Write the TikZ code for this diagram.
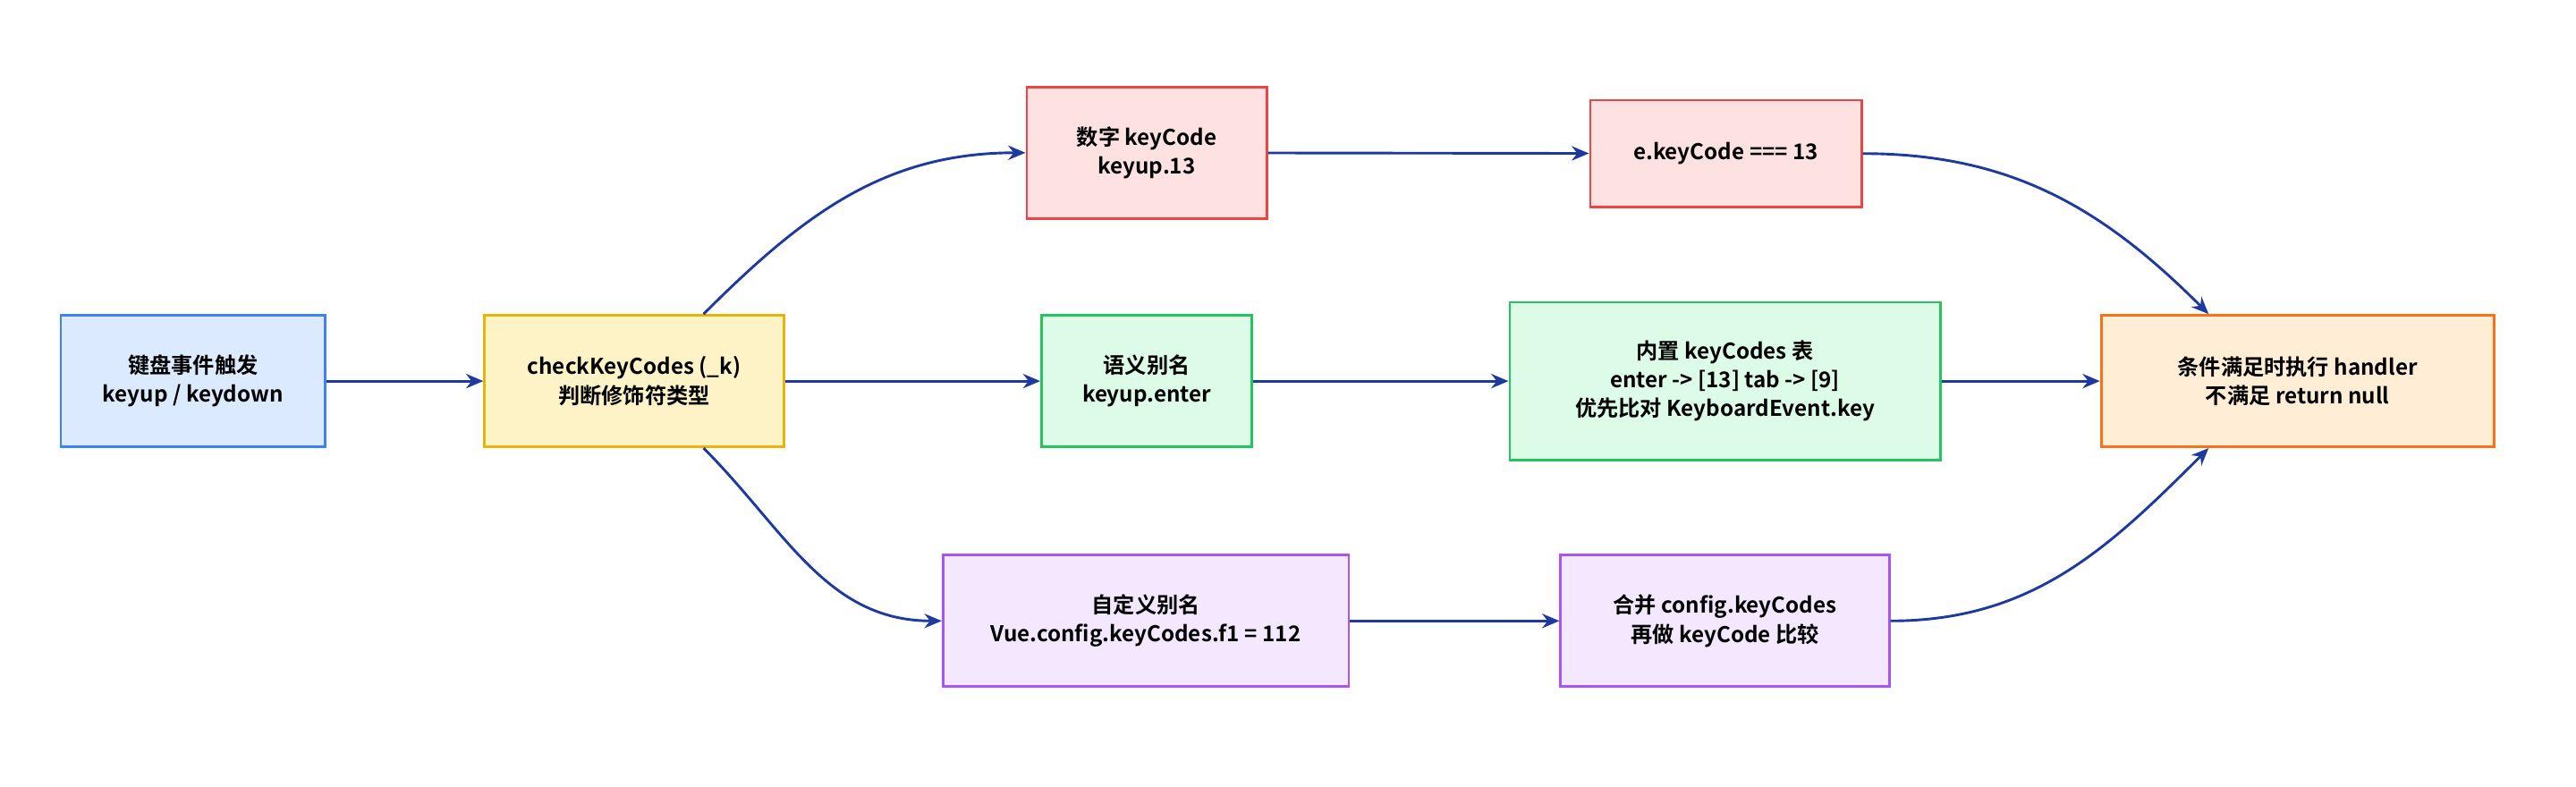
\documentclass[tikz,border=0pt]{standalone}
\usepackage{fontspec}
\setmainfont{Noto Sans CJK SC}[BoldFont={Noto Sans CJK SC Bold}]
\usepackage{tikz}
\usetikzlibrary{arrows.meta, positioning, shapes, calc}

\definecolor{blueFill}{HTML}{DBEAFE}\definecolor{blueLine}{HTML}{3B82F6}
\definecolor{yellowFill}{HTML}{FEF3C7}\definecolor{yellowLine}{HTML}{EAB308}
\definecolor{redFill}{HTML}{FEE2E2}\definecolor{redLine}{HTML}{EF4444}
\definecolor{greenFill}{HTML}{DCFCE7}\definecolor{greenLine}{HTML}{22C55E}
\definecolor{purpleFill}{HTML}{F3E8FF}\definecolor{purpleLine}{HTML}{A855F7}
\definecolor{orangeFill}{HTML}{FFEDD5}\definecolor{orangeLine}{HTML}{F97316}
\definecolor{flowLine}{HTML}{1E3A9F}

\tikzset{
  box/.style={draw, line width=0.9pt, align=center, inner sep=0pt,
    font=\fontsize{7.5}{10}\selectfont\bfseries},
  flow/.style={draw=flowLine, line width=0.9pt, -{Stealth[length=6pt,width=5pt]}}
}

\begin{document}
\begin{tikzpicture}
% canvas
\useasboundingbox[fill=white] (0,0) rectangle (31.36,9.58);

% left side
\node[box, fill=blueFill, draw=blueLine, minimum width=3.22cm, minimum height=1.6cm] (input) at (2.35,4.94) {键盘事件触发\\keyup / keydown};
\node[box, fill=yellowFill, draw=yellowLine, minimum width=3.64cm, minimum height=1.6cm] (check) at (7.72,4.94) {checkKeyCodes (\_k)\\判断修饰符类型};

% three branches
\node[box, fill=redFill, draw=redLine, minimum width=2.92cm, minimum height=1.6cm] (num) at (13.96,7.72) {数字 keyCode\\keyup.13};
\node[box, fill=redFill, draw=redLine, minimum width=3.3cm, minimum height=1.3cm] (numCmp) at (21.01,7.71) {e.keyCode === 13};

\node[box, fill=greenFill, draw=greenLine, minimum width=2.56cm, minimum height=1.6cm] (alias) at (13.96,4.94) {语义别名\\keyup.enter};
\node[box, fill=greenFill, draw=greenLine, minimum width=5.24cm, minimum height=1.92cm] (table) at (21.0,4.94) {内置 keyCodes 表\\enter -> [13] tab -> [9]\\优先比对 KeyboardEvent.key};

\node[box, fill=purpleFill, draw=purpleLine, minimum width=4.94cm, minimum height=1.6cm] (custom) at (13.95,2.02) {自定义别名\\Vue.config.keyCodes.f1 = 112};
\node[box, fill=purpleFill, draw=purpleLine, minimum width=4cm, minimum height=1.6cm] (merge) at (21.0,2.02) {合并 config.keyCodes\\再做 keyCode 比较};

% result
\node[box, fill=orangeFill, draw=orangeLine, minimum width=4.78cm, minimum height=1.6cm] (result) at (27.97,4.94) {条件满足时执行 handler\\不满足 return null};

% connectors
\draw[flow] (input) -- (check);
\draw[flow] (check.44) to[out=45, in=180] (num.west);
\draw[flow] (check) -- (alias);
\draw[flow] (check.-44) to[out=-45, in=180] (custom.west);
\draw[flow] (num) -- (numCmp);
\draw[flow] (alias) -- (table);
\draw[flow] (custom) -- (merge);
\draw[flow] (numCmp.east) to[out=0, in=135] (result.143);
\draw[flow] (table) -- (result);
\draw[flow] (merge.east) to[out=0, in=-135] (result.-143);
\end{tikzpicture}
\end{document}
